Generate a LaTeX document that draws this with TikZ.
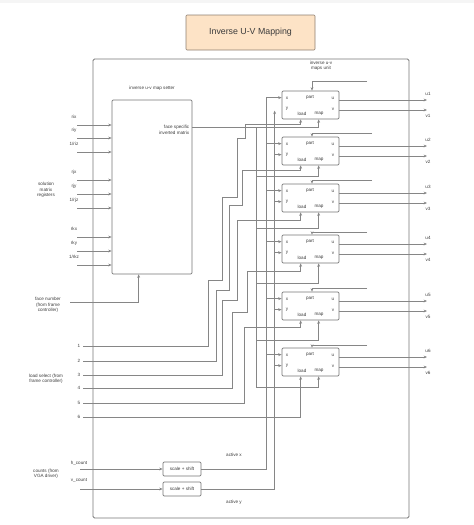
\documentclass[tikz,border=0pt]{standalone}
\usepackage{fontspec}
\setmainfont{Liberation Sans}
\usetikzlibrary{arrows.meta, positioning, calc}

\definecolor{wirecol}{HTML}{868686}
\definecolor{boxcol}{HTML}{767676}
\definecolor{titlefill}{HTML}{FDE3C6}
\definecolor{titledraw}{HTML}{8E7F70}
\definecolor{txtcol}{HTML}{3C3C3C}

\begin{document}
\begin{tikzpicture}[x=1pt, y=-1pt,
        wire/.style={draw=wirecol, line width=0.6pt},
        arr/.style={wire, -{Stealth[length=3.4pt,width=2.8pt]}},
        lbl/.style={font=\fontsize{4.6}{5.5}\selectfont, text=txtcol, inner sep=0.5pt, align=center},
        blockbox/.style={draw=boxcol, line width=0.7pt, rounded corners=1.2pt, fill=white},
        unitbox/.style={blockbox, minimum width=57pt, minimum height=28pt, inner sep=0pt},
        scalebox/.style={blockbox, minimum width=38pt, minimum height=14pt, inner sep=0pt,
            font=\fontsize{4.6}{5.5}\selectfont, text=txtcol}
    ]
    \useasboundingbox (0,0) rectangle (474,525);
    \fill[gray!8] (0,0) rectangle (474,3);

    % title and frame
    \node[draw=titledraw, fill=titlefill, line width=0.7pt, rounded corners=1pt,
        minimum width=129pt, minimum height=35pt, font=\fontsize{8.8}{10}\selectfont, text=txtcol]
        (title) at (250.5,32.5) {Inverse U-V Mapping};
    \node[draw=boxcol, line width=0.8pt, rounded corners=1.5pt,
        minimum width=316pt, minimum height=459pt] (frame) at (251,288.5) {};

    % map setter
    \node[blockbox, minimum width=80pt, minimum height=174pt] (setter) at (152,187) {};
    \node[lbl] (setterlbl) at (152,88) {inverse u-v map setter};
    \node[lbl, anchor=east, align=right] (matlbl) at (190,130) {face specific\\inverted matrix};
    \node[lbl] (unitlbl) at (321,66) {inverse u-v\\maps unit};

    % solution matrix inputs
    \node[lbl] (sollbl) at (46,190) {solution\\matrix\\registers};
    \foreach \y/\nm [count=\i] in {125/rix,138/riy,152/{1/riz},180/rjx,194/rjy,208/{1/rjz},237/rkx,251/rky,265/{1/rkz}} {
        \node[lbl] (reg\i) at (74,\y-8) {\nm};
        \coordinate (regs\i) at (77,\y);
        \draw[arr] (regs\i) -- (regs\i -| setter.west);
    }

    % face number
    \node[lbl] (facelbl) at (48,305) {face number\\(from frame\\controller)};
    \coordinate (faces) at (70,302);
    \draw[arr] (faces) -| ($(setter.south west)+(27,0)$);

    % map units
    \foreach \t/\py/\px [count=\i] in {91/81/367,137/133/372,184/180/372,235/232/367,292/288/367,348/345/367} {
        \node[unitbox] (u\i) at (310.5,\t+14) {};
        \node[lbl] (ux\i) at (287,\t+7) {x};
        \node[lbl] (uy\i) at (287,\t+18) {y};
        \node[lbl] (upart\i) at (310,\t+6.5) {part};
        \node[lbl] (uu\i) at (333,\t+7.5) {u};
        \node[lbl] (uv\i) at (333,\t+18) {v};
        \node[lbl] (uload\i) at (302,\t+23) {load};
        \node[lbl] (umap\i) at (319,\t+23) {map};
        \coordinate (xi\i) at ($(u\i.north west)+(0,7)$);
        \coordinate (yi\i) at ($(u\i.north west)+(0,18)$);
        \coordinate (ld\i) at ($(u\i.south west)+(19,0)$);
        \coordinate (mp\i) at ($(u\i.south west)+(37,0)$);
        % part select
        \coordinate (ps\i) at (\px,\py);
        \draw[arr] (ps\i) -| ($(u\i.north)+(1.5,0)$);
        % outputs
        \coordinate (uo\i) at (427,\t+9);
        \coordinate (vo\i) at (427,\t+19);
        \draw[arr] (uo\i -| u\i.east) -- (uo\i);
        \draw[arr] (vo\i -| u\i.east) -- (vo\i);
        \node[lbl] (uol\i) at (428,\t+3) {u\i};
        \node[lbl] (vol\i) at (428,\t+25) {v\i};
    }

    % inverted matrix bus
    \coordinate (mo) at ($(setter.north east)+(0,28)$);
    \draw[arr] (mo) -| (mp1);
    \coordinate (mbt) at (256,128);
    \coordinate (mbb) at (256,387);
    \draw[wire] (mbt) -- (mbb);
    \draw[arr] (mbb) -| (mp6);
    \foreach \i/\my in {2/176,3/228,4/283,5/340} {
        \coordinate (mb\i) at (256,\my);
        \draw[arr] (mb\i) -| (mp\i);
    }

    % load select
    \node[lbl] (loadlbl) at (46,379) {load select (from\\frame controller)};
    \foreach \y [count=\i] in {346,361,375,388,403,417} {
        \node[lbl] (lsl\i) at (79,\y) {\i};
        \coordinate (lss\i) at (83,\y);
    }
    \draw[arr] (lss1) -| (208,280) -| (222,197) -| (237,138) -| (245,124) -| (ld1);
    \draw[arr] (lss2) -| (216,290) -| (229,205) -| (242,170) -| (ld2);
    \draw[arr] (lss3) -| (222,300) -| (237,220) -| (ld3);
    \draw[arr] (lss4) -| (232,312) -| (247,271) -| (ld4);
    \draw[arr] (lss5) -| (244,327) -| (ld5);
    \draw[arr] (lss6) -| (ld6);

    % pixel counters
    \node[scalebox] (sx) at (182,469) {scale + shift};
    \node[scalebox] (sy) at (182,489) {scale + shift};
    \node[lbl] (cntlbl) at (46,474) {counts (from\\VGA driver)};
    \node[lbl] (hclbl) at (79,463) {h\_count};
    \node[lbl] (vclbl) at (79,480) {v\_count};
    \coordinate (hcs) at (80,469);
    \coordinate (vcs) at (80,489);
    \draw[arr] (hcs) -- (sx.west);
    \draw[arr] (vcs) -- (sy.west);
    \node[lbl] (axlbl) at (234,455) {active x};
    \node[lbl] (aylbl) at (234,502) {active y};

    % active x / active y
    \draw[arr] (sx.east) -| ($(xi1)+(-15,0)$) -- (xi1);
    \draw[arr] (sy.east) -| ($(yi1)+(-7,2)$);
    \foreach \i in {2,...,6} {
        \draw[arr] ($(xi\i)+(-15,0)$) -- (xi\i);
        \draw[arr] ($(yi\i)+(-7,0)$) -- (yi\i);
    }
\end{tikzpicture}
\end{document}
